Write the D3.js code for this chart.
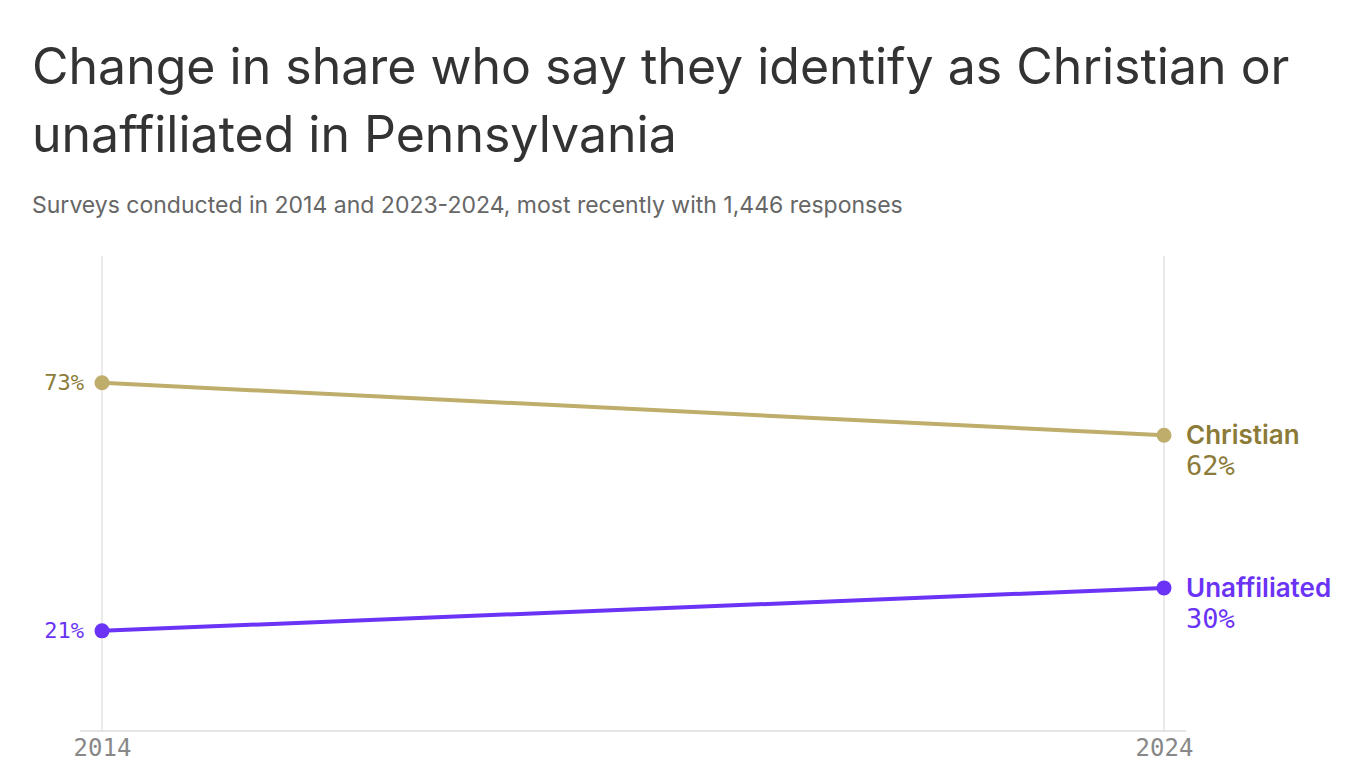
<!DOCTYPE html>
<html>
<head>
<meta charset="utf-8">
<script src="https://cdn.jsdelivr.net/npm/d3@7"></script>
<style>
  body { margin: 0; background: #fff; font-family: Inter, "Noto Sans", sans-serif; }
</style>
</head>
<body>
<svg id="chart"></svg>
<script>
const years = [2014, 2024];
const seriesNames = ['Christian', 'Unaffiliated'];
const christian = [73, 62];
const unaffiliated = [21, 30];
const colors = { Christian: '#bfad6b', Unaffiliated: '#6a33f5' };
const textColors = { Christian: '#8c7b38', Unaffiliated: '#6a33f5' };

const width = 1366, height = 768;
const svg = d3.select('#chart').attr('width', width).attr('height', height);

// Titles
svg.append('text').attr('x', 32).attr('y', 84)
  .attr('font-size', 50).attr('fill', '#333').text('Change in share who say they identify as Christian or');
svg.append('text').attr('x', 32).attr('y', 152)
  .attr('font-size', 50).attr('fill', '#333').text('unaffiliated in Pennsylvania');
svg.append('text').attr('x', 32).attr('y', 213)
  .attr('font-size', 23).attr('fill', '#666')
  .text('Surveys conducted in 2014 and 2023-2024, most recently with 1,446 responses');

const x = d3.scalePoint().domain(years).range([102, 1164]);
const y = d3.scaleLinear().domain([0, 100]).range([731, 254]);
const mono = '"DejaVu Sans Mono", monospace';

// Vertical gridlines
svg.append('g').selectAll('line').data(years).join('line')
  .attr('x1', d => x(d)).attr('x2', d => x(d))
  .attr('y1', 256).attr('y2', 731)
  .attr('stroke', '#e3e3e3').attr('stroke-width', 1.5);

// x axis
const xAxis = svg.append('g').attr('transform', 'translate(0,731)')
  .call(d3.axisBottom(x).tickSize(0).tickPadding(8));
xAxis.select('.domain').remove();
xAxis.append('line').attr('x1', 80).attr('x2', 1186).attr('stroke', '#ddd').attr('stroke-width', 1.5);
xAxis.selectAll('.tick text')
  .attr('font-family', mono).attr('font-size', 24).attr('fill', '#888');

const data = [
  { name: 'Christian', values: christian },
  { name: 'Unaffiliated', values: unaffiliated }
];

const line = d3.line().x((d, i) => x(years[i])).y(d => y(d));

data.forEach(s => {
  const c = colors[s.name];
  svg.append('path').datum(s.values).attr('d', line)
    .attr('fill', 'none').attr('stroke', c).attr('stroke-width', 4);
  svg.append('g').selectAll('circle').data(s.values).join('circle')
    .attr('cx', (d, i) => x(years[i])).attr('cy', d => y(d)).attr('r', 7.5).attr('fill', c);
  // start label
  svg.append('text').attr('x', x(years[0]) - 18).attr('y', y(s.values[0]) + 7)
    .attr('text-anchor', 'end').attr('font-family', mono)
    .attr('font-size', 22).attr('fill', textColors[s.name]).text(s.values[0] + '%');
  // end labels
  const ex = x(years[1]) + 22, ey = y(s.values[1]);
  svg.append('text').attr('x', ex).attr('y', ey + 9)
    .attr('font-size', 26).attr('font-weight', 600).attr('fill', textColors[s.name]).text(s.name);
  svg.append('text').attr('x', ex).attr('y', ey + 40)
    .attr('font-family', mono)
    .attr('font-size', 27).attr('fill', textColors[s.name]).text(s.values[1] + '%');
});
</script>
</body>
</html>
